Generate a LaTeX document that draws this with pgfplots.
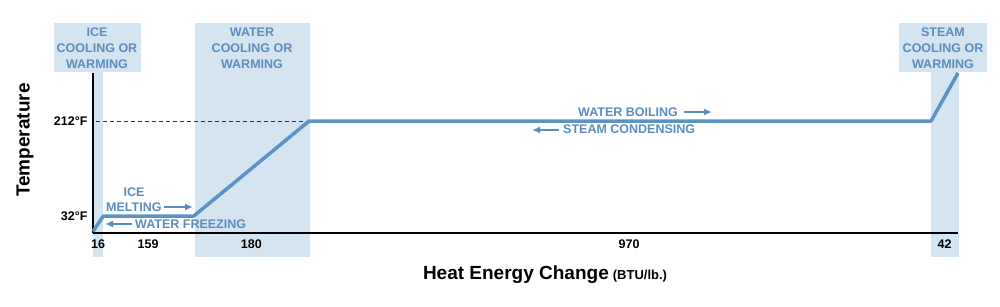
\documentclass[border=0pt]{standalone}
\usepackage{fontspec}
\setmainfont{Liberation Sans}
\usepackage{pgfplots}
\pgfplotsset{compat=1.18}
\usetikzlibrary{arrows.meta}
\definecolor{lineblue}{HTML}{5B93C4}
\definecolor{txtblue}{HTML}{5A8CC0}
\definecolor{bandblue}{HTML}{D5E4F1}
\begin{document}
\begin{tikzpicture}
\path[use as bounding box] (0,0) rectangle (1000pt,306pt);
% shaded bands
\fill[bandblue] (54pt,234pt) rectangle (141pt,283pt);
\fill[bandblue] (93pt,49pt) rectangle (103pt,234pt);
\fill[bandblue] (195pt,49pt) rectangle (310pt,283pt);
\fill[bandblue] (931pt,49pt) rectangle (959pt,234pt);
\fill[bandblue] (899pt,234pt) rectangle (987pt,283pt);
\begin{axis}[
  at={(93pt,73pt)}, anchor=south west,
  scale only axis, width=865pt, height=160pt,
  xmin=0, xmax=1349, ymin=0, ymax=303,
  axis lines=left,
  axis line style={line width=2.5pt,-},
  x axis line style={-}, y axis line style={-},
  clip=false,
  xtick={8,86,247,836,1328},
  xticklabels={16,159,180,970,42},
  ytick={32,212},
  yticklabels={32°F,212°F},
  major tick length=0pt,
  tick label style={font=\fontsize{12.5}{14}\selectfont\bfseries},
  xticklabel style={anchor=base, yshift=-15.5pt},
  yticklabel style={anchor=east, xshift=-2pt},
]
\draw[dash pattern=on 4pt off 3pt, line width=0.8pt, black!80] (axis cs:4,212) -- (axis cs:337,212);
\addplot[color=lineblue, line width=3.5pt, line join=round] coordinates {(0,3) (16,32) (157,32) (337,212) (1307,212) (1349,303)};
\end{axis}
% labels
\node[rotate=90, font=\fontsize{19}{22}\selectfont\bfseries] at (25pt,166pt) {Temperature};
\node[font=\bfseries] at (545pt,31pt) {{\fontsize{19}{22}\selectfont Heat Energy Change}\hspace{4pt}{\fontsize{13}{15}\selectfont (BTU/lb.)}};
\begin{scope}[every node/.style={text=txtblue, font=\fontsize{12.5}{16}\selectfont\bfseries, inner sep=0pt}]
\node[align=center] at (97pt,258pt) {ICE\\COOLING OR\\WARMING};
\node[align=center] at (252pt,258pt) {WATER\\COOLING OR\\WARMING};
\node[align=center] at (943pt,258pt) {STEAM\\COOLING OR\\WARMING};
\node at (134pt,114pt) {ICE};
\node[anchor=west] at (106pt,99pt) {MELTING};
\node[anchor=west] at (135pt,82pt) {WATER FREEZING};
\node[anchor=west] at (578pt,194pt) {WATER BOILING};
\node[anchor=west] at (563pt,177pt) {STEAM CONDENSING};
\end{scope}
\begin{scope}[txtblue, line width=1.6pt, -{Latex[length=8pt,width=7pt]}]
\draw (164pt,99pt) -- (193pt,99pt);
\draw (132pt,82pt) -- (105pt,82pt);
\draw (684pt,194pt) -- (712pt,194pt);
\draw (559pt,176pt) -- (532pt,176pt);
\end{scope}
\end{tikzpicture}
\end{document}
